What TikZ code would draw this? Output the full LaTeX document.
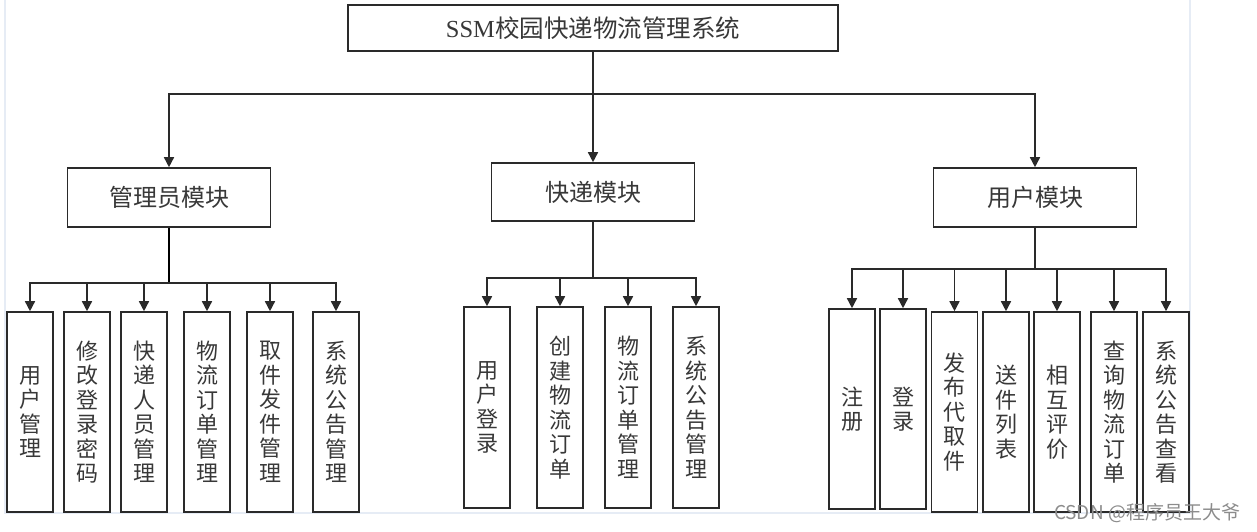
\documentclass[tikz,border=0pt]{standalone}
\usepackage{fontspec}
\setmainfont{Liberation Serif}
\newfontfamily\cjk{Noto Sans CJK SC}
\usetikzlibrary{arrows.meta}
\definecolor{txt}{HTML}{383838}
\definecolor{ln}{HTML}{2A2A2A}
\definecolor{frame}{HTML}{E6ECF5}
\tikzset{
  box/.style={draw=ln, line width=1.6pt, inner sep=0pt, text=txt, align=center},
  modbox/.style={box, minimum width=203pt, minimum height=59pt, font=\cjk\fontsize{24}{26}\selectfont},
  leaf/.style={box, minimum width=46pt, minimum height=200pt, font=\cjk\fontsize{22}{24.5}\selectfont},
  conn/.style={draw=ln, line width=1.5pt},
  arr/.style={conn, -{Triangle[length=10pt,width=10pt]}},
}
\begin{document}
\begin{tikzpicture}[x=1pt,y=-1pt]
\useasboundingbox (0,0) rectangle (1257,531);
% faint screenshot frame
\draw[frame, line width=1.5pt] (5,0) -- (5,513) -- (1190,513) -- (1190,0);

% top
\node[box, minimum width=490pt, minimum height=46pt] (top) at (593,28)
  {\fontsize{24.5}{26}\selectfont SSM{\cjk 校园快递物流管理系统}};

% modules
\node[modbox] (m1) at (169,197.5) {管理员模块};
\node[modbox, minimum height=58pt] (m2) at (593,192) {快递模块};
\node[modbox] (m3) at (1035,197.5) {用户模块};

\coordinate (jt) at (593,94);
\draw[conn] (top.south) -- (jt);
\draw[arr] (jt) -| (m1.north);
\draw[arr] (jt) -- (m2.north);
\draw[arr] (jt) -| (m3.north);

% admin leaves
\node[leaf] (a1) at (30,412) {用\\户\\管\\理};
\node[leaf] (a2) at (87,412) {修\\改\\登\\录\\密\\码};
\node[leaf] (a3) at (144,412) {快\\递\\人\\员\\管\\理};
\node[leaf] (a4) at (207,412) {物\\流\\订\\单\\管\\理};
\node[leaf] (a5) at (270,412) {取\\件\\发\\件\\管\\理};
\node[leaf] (a6) at (336,412) {系\\统\\公\\告\\管\\理};
\coordinate (jl) at (169,283);
\draw[draw=black, line width=2.6pt] (m1.south) -- (jl);
\foreach \c in {a1,a2,a3,a4,a5,a6} \draw[arr] (jl) -| (\c.north);

% courier leaves
\node[leaf, minimum height=201pt] (b1) at (487,407.5) {用\\户\\登\\录};
\node[leaf, minimum height=201pt] (b2) at (560,407.5) {创\\建\\物\\流\\订\\单};
\node[leaf, minimum height=201pt] (b3) at (628,407.5) {物\\流\\订\\单\\管\\理};
\node[leaf, minimum height=201pt] (b4) at (696,407.5) {系\\统\\公\\告\\管\\理};
\coordinate (jm) at (593,278);
\draw[conn] (m2.south) -- (jm);
\foreach \c in {b1,b2,b3,b4} \draw[arr] (jm) -| (\c.north);

% user leaves
\node[leaf] (c1) at (852,409) {注\\册};
\node[leaf] (c2) at (903,409) {登\\录};
\node[leaf] (c3) at (954.5,412) {发\\布\\代\\取\\件};
\node[leaf] (c4) at (1006,412) {送\\件\\列\\表};
\node[leaf] (c5) at (1057,412) {相\\互\\评\\价};
\node[leaf] (c6) at (1114,412) {查\\询\\物\\流\\订\\单};
\node[leaf] (c7) at (1166,412) {系\\统\\公\\告\\查\\看};
\coordinate (jr) at (1035,269);
\draw[conn] (m3.south) -- (jr);
\foreach \c in {c1,c2,c3,c4,c5,c6,c7} \draw[arr] (jr) -| (\c.north);

% watermark
\node[text=black!45, font=\cjk\fontsize{19}{21}\selectfont, anchor=center] (wm) at (1147,513)
  {CSDN @程序员王大爷};
\end{tikzpicture}
\end{document}
